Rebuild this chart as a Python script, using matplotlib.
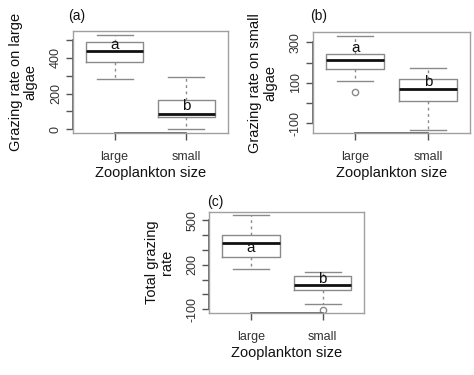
import matplotlib
matplotlib.use("Agg")
import matplotlib.pyplot as plt

plt.rcParams['font.family'] = ['Liberation Sans', 'DejaVu Sans']

groups = ["large", "small"]

# five-number summaries: [lower whisker, Q1, median, Q3, upper whisker]
a_large = [283, 377, 437, 491, 530]
a_small = [0, 67, 86, 164, 291]
a_out = [[], []]
b_large = [108, 169, 213, 245, 333]
b_small = [-130, 12, 71, 118, 174]
b_out = [[54], []]
c_large = [171, 252, 347, 398, 533]
c_small = [-63, 32, 65, 121, 148]
c_out = [[], [-103]]

letters = ["a", "b"]
a_letter_y = [472, 130]
b_letter_y = [275, 103]
c_letter_y = [313, 104]

a_ticks = [0, 100, 200, 300, 400, 500]
a_labels = ["0", "", "200", "", "400", ""]
b_ticks = [-100, 0, 100, 200, 300]
b_labels = ["-100", "", "100", "", "300"]
c_ticks = [-100, 0, 100, 200, 300, 400, 500]
c_labels = ["-100", "", "", "200", "", "", "500"]

panels = [
    dict(stats=[a_large, a_small], out=a_out, ly=a_letter_y, ticks=a_ticks, labels=a_labels,
         ylabel="Grazing rate on large\nalgae", tag="(a)",
         rect=[73/474, 1-133/375, 155/474, 102/375], tagpos=(-0.03, 1.15)),
    dict(stats=[b_large, b_small], out=b_out, ly=b_letter_y, ticks=b_ticks, labels=b_labels,
         ylabel="Grazing rate on small\nalgae", tag="(b)",
         rect=[313/474, 1-133.3/375, 157/474, 101.3/375], tagpos=(-0.02, 1.155)),
    dict(stats=[c_large, c_small], out=c_out, ly=c_letter_y, ticks=c_ticks, labels=c_labels,
         ylabel="Total grazing\nrate", tag="(c)",
         rect=[209.3/474, 1-313.3/375, 155/474, 101.6/375], tagpos=(-0.015, 1.095)),
]

fig = plt.figure(figsize=(4.74, 3.75), dpi=100)
frame_col = "#a0a0a0"
axis_col = "#555555"
box_col = "#8a8a8a"

for p in panels:
    ax = fig.add_axes(p["rect"])
    bstats = []
    for g, s, o in zip(groups, p["stats"], p["out"]):
        bstats.append(dict(label=g, whislo=s[0], q1=s[1], med=s[2], q3=s[3], whishi=s[4], fliers=o))
    ax.bxp(bstats, positions=[1, 2], widths=0.8, patch_artist=False,
           boxprops=dict(color=box_col, lw=1.0),
           medianprops=dict(color="#111111", lw=2.0),
           whiskerprops=dict(color=box_col, lw=1.0, linestyle=(0, (2, 2.5))),
           capprops=dict(color=box_col, lw=1.0),
           capwidths=0.5,
           flierprops=dict(marker="o", markerfacecolor="none", markeredgecolor=box_col,
                           markersize=4.5, markeredgewidth=1.0))
    lo = min(min(s[0] for s in p["stats"]), min([v for o in p["out"] for v in o] + [1e9]))
    hi = max(max(s[4] for s in p["stats"]), max([v for o in p["out"] for v in o] + [-1e9]))
    rng = hi - lo
    ax.set_ylim(lo - 0.04 * rng, hi + 0.04 * rng)
    ax.set_xlim(0.42, 2.58)
    for i, (l, y) in enumerate(zip(letters, p["ly"])):
        ax.text(i + 1, y, l, ha="center", va="center", fontsize=11, color="#111111")
    ax.set_yticks(p["ticks"])
    ax.set_yticklabels(p["labels"], rotation=90, va="center")
    ax.set_xticks([1, 2])
    ax.set_xticklabels(groups)
    for sp in ax.spines.values():
        sp.set_color(frame_col)
        sp.set_linewidth(1.0)
    ax.tick_params(direction="out", length=5, width=1.0, color=axis_col,
                   labelsize=9, labelcolor="#333333")
    ax.tick_params(axis="x", pad=8)
    ax.tick_params(axis="y", pad=3)
    # axis lines spanning first to last tick (R style)
    ax.plot([1, 2], [0, 0], transform=ax.get_xaxis_transform(), color=axis_col, lw=1.2,
            clip_on=False)
    ax.plot([0, 0], [p["ticks"][0], p["ticks"][-1]], transform=ax.get_yaxis_transform(),
            color=axis_col, lw=1.2, clip_on=False)
    ax.text(-0.32, 0.5, p["ylabel"], transform=ax.transAxes, rotation=90,
            ha="center", va="center", multialignment="center", fontsize=10.5,
            color="#111111", linespacing=1.05)
    ax.text(0.5, -0.39, "Zooplankton size", transform=ax.transAxes,
            ha="center", va="center", fontsize=10.5, color="#111111")
    ax.text(p["tagpos"][0], p["tagpos"][1], p["tag"], transform=ax.transAxes,
            ha="left", va="center", fontsize=10, color="#111111")

fig.savefig("out.png", dpi=100)
